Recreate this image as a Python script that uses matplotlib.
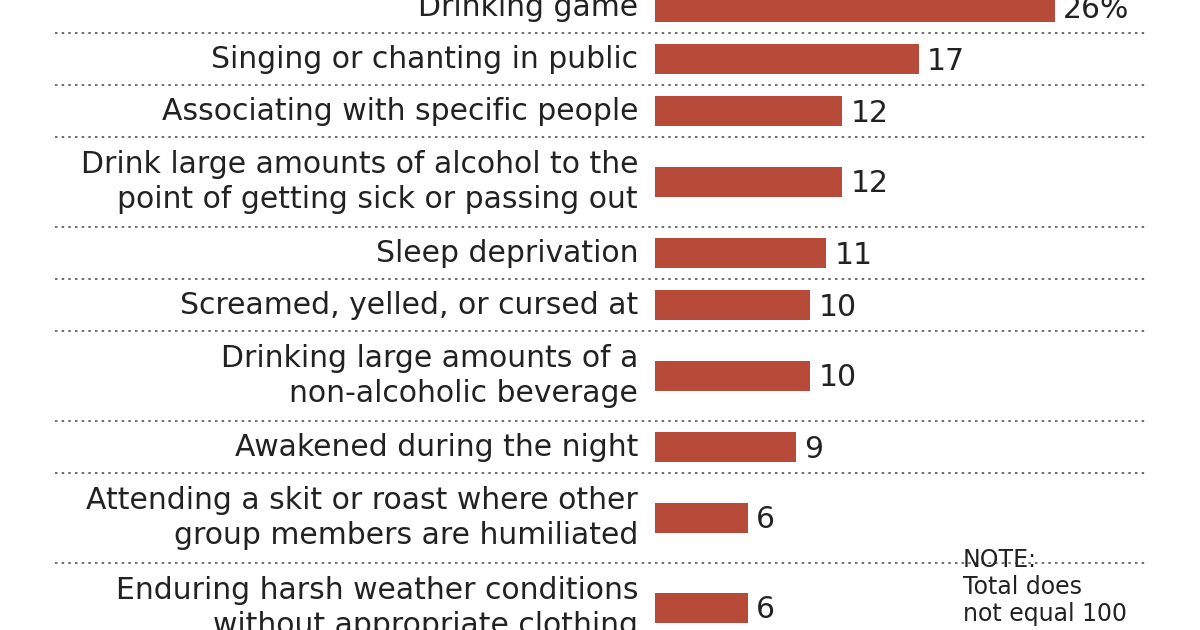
import matplotlib
matplotlib.use("Agg")
import matplotlib.pyplot as plt

categories = ["Drinking game", "Singing or chanting in public", "Associating with specific people",
              "Drink large amounts of alcohol to the\npoint of getting sick or passing out",
              "Sleep deprivation", "Screamed, yelled, or cursed at",
              "Drinking large amounts of a\nnon-alcoholic beverage", "Awakened during the night",
              "Attending a skit or roast where other\ngroup members are humiliated",
              "Enduring harsh weather conditions\nwithout appropriate clothing"]
values = [25, 16.5, 11.7, 11.7, 10.7, 9.7, 9.7, 8.8, 5.8, 5.8]
labels = ["26%", "17", "12", "12", "11", "10", "10", "9", "6", "6"]

plt.rcParams['font.family'] = ['DejaVu Sans']
fig = plt.figure(figsize=(12, 6.3), dpi=100)
ax = fig.add_axes([0, 0, 1, 1])
ppu = 16.0
x0 = 655
ax.set_xlim(-x0 / ppu, (1200 - x0) / ppu)
ax.set_ylim(630, 0)
ax.axis('off')
color = '#b84a3a'
y = -19
for cat, v, lab in zip(categories, values, labels):
    h = 90 if '\n' in cat else 52
    c = y + h / 2
    ax.barh(c, v, height=30, left=0, color=color)
    ax.text(-17 / ppu, c, cat, ha='right', va='center', fontsize=21.5, color='#222222',
            linespacing=1.3)
    ax.text(v + 8 / ppu, c + 2, lab, ha='left', va='center', fontsize=21.5, color='#222222')
    y += h
    ax.plot([-600 / ppu, 490 / ppu], [y, y], color='#555555', lw=1.2, ls=(0, (1.5, 2.5)))
ax.text(308 / ppu, 548, "NOTE:\nTotal does\nnot equal 100", ha='left', va='top',
        fontsize=17, color='#222222', linespacing=1.15)
fig.savefig("out.png", dpi=100)
